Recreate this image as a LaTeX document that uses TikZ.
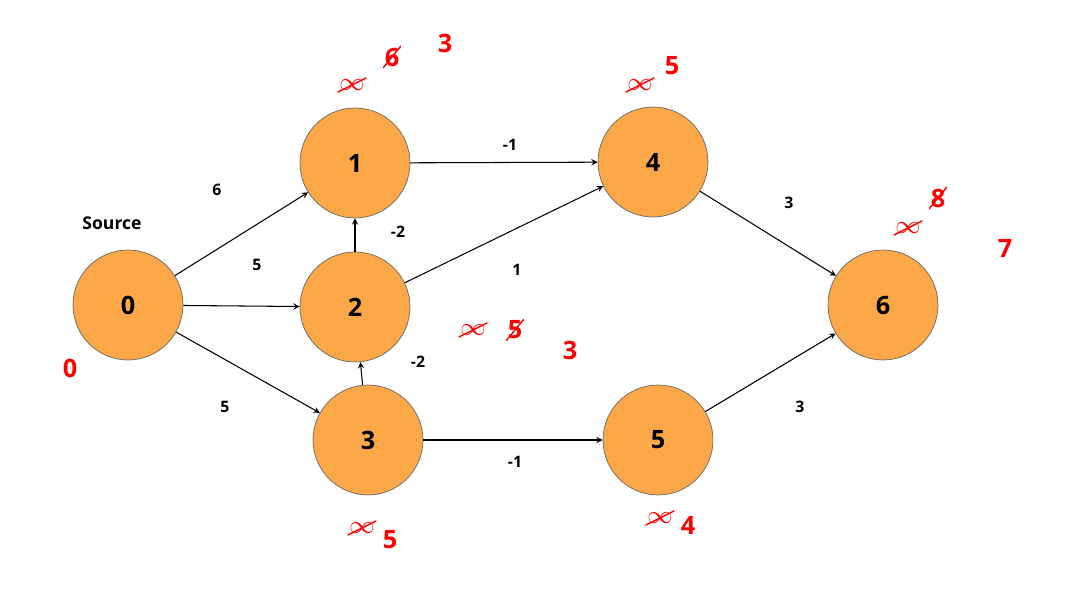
\documentclass[tikz,border=0pt]{standalone}
\usepackage{fontspec}
\setmainfont{Open Sans}
\begin{document}
\begin{tikzpicture}[x=0.02cm,y=-0.02cm,
  v/.style={circle,draw=black!60,minimum size=2.2cm,font=\bfseries\Large},
  e/.style={-stealth,black,line width=0.6pt},
  w/.style={font=\small\bfseries},
  r/.style={text=red,font=\Large\bfseries},
  s/.style={text=red,font=\Large\bfseries,inner sep=1pt,path picture={\draw[red,line width=0.8pt] (path picture bounding box.south west) -- (path picture bounding box.north east);}}]
\useasboundingbox (0,0) rectangle (1066,590);
\definecolor{nodefill}{RGB}{252,168,72}
\tikzset{v/.append style={fill=nodefill}}
\node[v] (n0) at (128,305) {0};
\node[v] (n1) at (355,163) {1};
\node[v] (n2) at (355,307) {2};
\node[v] (n3) at (368,440) {3};
\node[v] (n4) at (653,162) {4};
\node[v] (n5) at (658,440) {5};
\node[v] (n6) at (883,305) {6};
\draw[e] (n0) -- (n1);
\draw[e] (n0) -- (n2);
\draw[e] (n0) -- (n3);
\draw[e] (n1) -- (n4);
\draw[e] (n2) -- (n1);
\draw[e] (n2) -- (n4);
\draw[e] (n3) -- (n2);
\draw[e] (n4) -- (n6);
\draw[e] (n3) -- (n5);
\draw[e] (n5) -- (n6);
\node[w] (l1) at (217,190) {6};
\node[w] (l2) at (257,265) {5};
\node[w] (l3) at (225,407) {5};
\node[w] (l4) at (510,145) {-1};
\node[w] (l5) at (398,232) {-2};
\node[w] (l6) at (517,270) {1};
\node[w] (l7) at (418,362) {-2};
\node[w] (l8) at (789,203) {3};
\node[w] (l9) at (515,462) {-1};
\node[w] (l10) at (800,407) {3};
\node[font=\bfseries] (src) at (112,223) {Source};
\node[r] (d0) at (70,368) {0};
\node[s] (a1) at (352,85) {$\infty$};
\node[s] (b1) at (392,57) {6};
\node[r] (c1) at (445,43) {3};
\node[s] (a4) at (640,85) {$\infty$};
\node[r] (b4) at (672,66) {5};
\node[s] (a6) at (908,228) {$\infty$};
\node[s] (b6) at (938,198) {8};
\node[r] (c6) at (1005,248) {7};
\node[s] (a2) at (473,330) {$\infty$};
\node[s] (b2) at (515,330) {5};
\node[r] (c2) at (570,350) {3};
\node[s] (a3) at (362,528) {$\infty$};
\node[r] (b3) at (390,540) {5};
\node[s] (a5) at (660,518) {$\infty$};
\node[r] (b5) at (688,525) {4};
\end{tikzpicture}
\end{document}
